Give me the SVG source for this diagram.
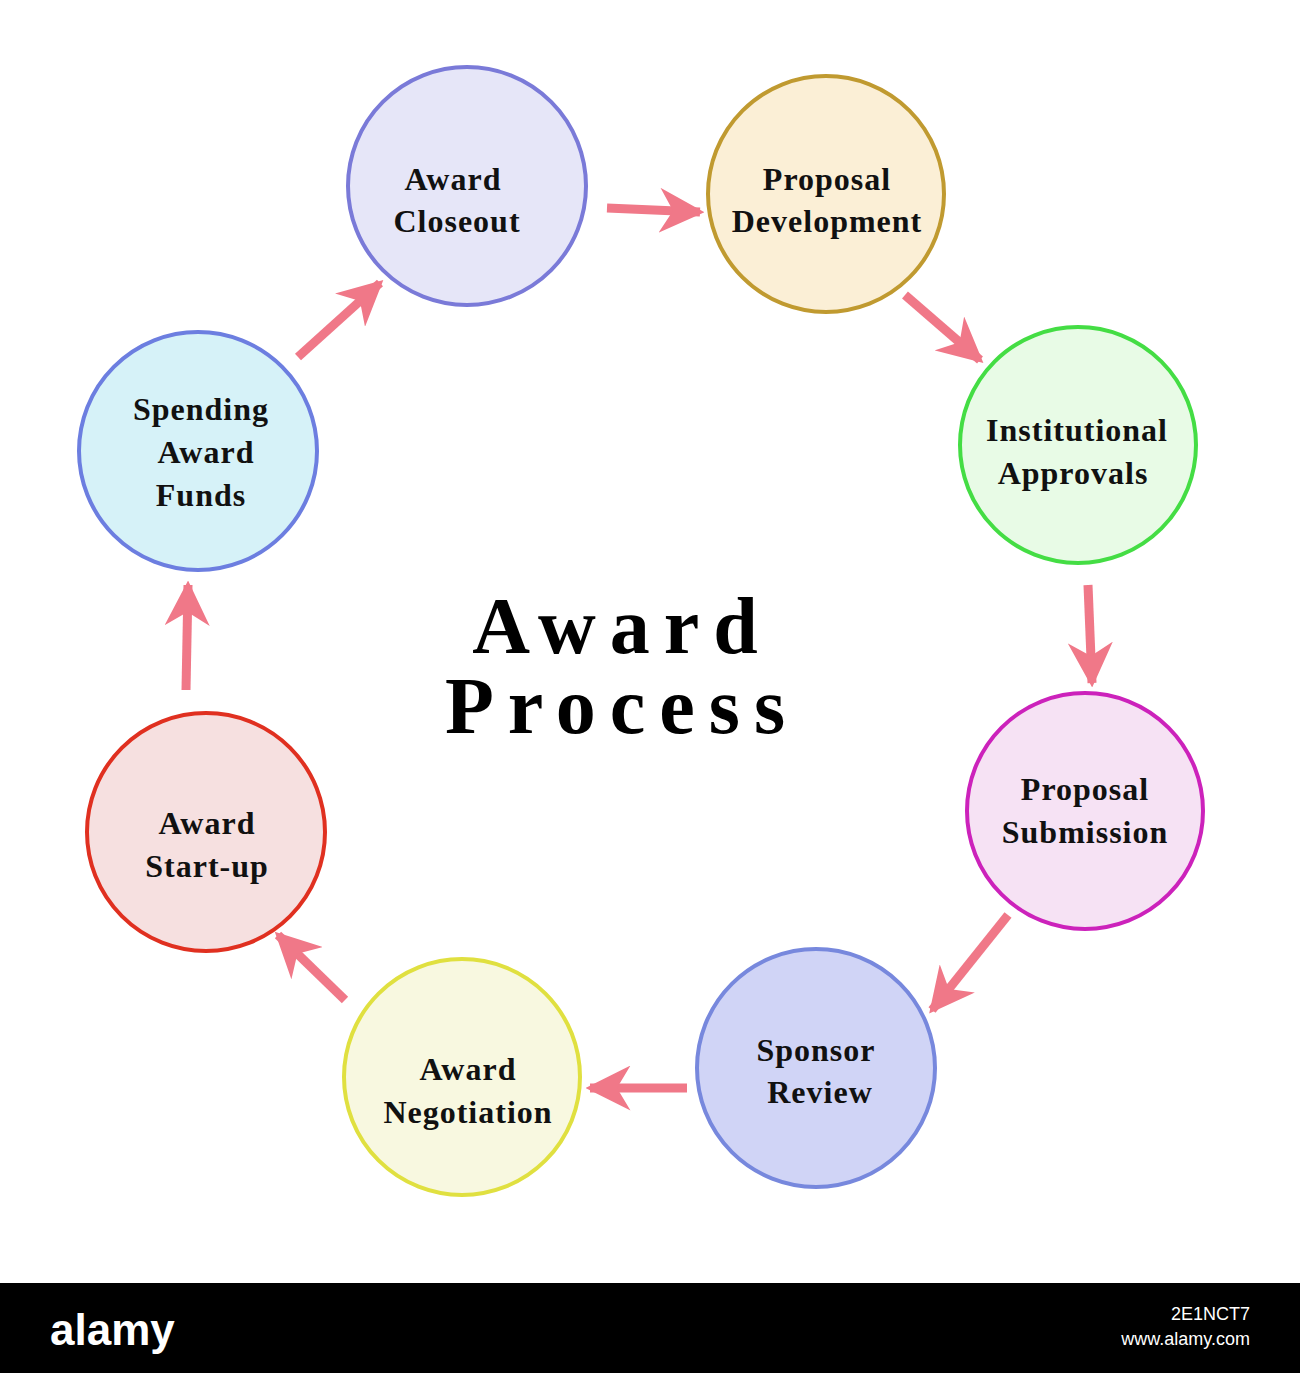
<svg xmlns="http://www.w3.org/2000/svg" width="1300" height="1373" viewBox="0 0 1300 1373">
<style>
.c{stroke-width:4}
.t{font-family:"Liberation Serif",serif;font-weight:bold;font-size:32px;letter-spacing:1px;text-anchor:middle;fill:#111}
.a{stroke:#f07888;stroke-width:9;fill:none}
.h{fill:#f07888}
</style>
<rect width="1300" height="1373" fill="#fff"/>
<g id="n1"><circle class="c" cx="467" cy="186" r="119" fill="#e6e6f8" stroke="#7a7ad8"/><text class="t" x="453" y="190">Award</text><text class="t" x="457" y="232">Closeout</text></g>
<g id="n2"><circle class="c" cx="826" cy="194" r="118" fill="#fbefd6" stroke="#c09a30"/><text class="t" x="827" y="190">Proposal</text><text class="t" x="827" y="232">Development</text></g>
<g id="n3"><circle class="c" cx="1078" cy="445" r="118" fill="#e8fbe6" stroke="#44dd44"/><text class="t" x="1077" y="441">Institutional</text><text class="t" x="1073" y="484">Approvals</text></g>
<g id="n4"><circle class="c" cx="1085" cy="811" r="118" fill="#f6e2f4" stroke="#cc22bb"/><text class="t" x="1085" y="800">Proposal</text><text class="t" x="1085" y="843">Submission</text></g>
<g id="n5"><circle class="c" cx="816" cy="1068" r="119" fill="#d0d4f6" stroke="#7788dd"/><text class="t" x="816" y="1061">Sponsor</text><text class="t" x="820" y="1103">Review</text></g>
<g id="n6"><circle class="c" cx="462" cy="1077" r="118" fill="#f8f8e0" stroke="#e0e040"/><text class="t" x="468" y="1080">Award</text><text class="t" x="468" y="1123">Negotiation</text></g>
<g id="n7"><circle class="c" cx="206" cy="832" r="119" fill="#f6e0e0" stroke="#e03020"/><text class="t" x="207" y="834">Award</text><text class="t" x="207" y="877">Start-up</text></g>
<g id="n8"><circle class="c" cx="198" cy="451" r="119" fill="#d6f2f8" stroke="#6c7ee0"/><text class="t" x="201" y="420">Spending</text><text class="t" x="206" y="463">Award</text><text class="t" x="201" y="506">Funds</text></g>
<g id="title" font-family="Liberation Serif,serif" font-weight="bold" font-size="80" text-anchor="middle" letter-spacing="14" fill="#000"><text x="622" y="653">Award</text><text x="622" y="733">Process</text></g>
<g id="connectors">
<defs><marker id="m" viewBox="0 0 10 10" refX="9" refY="5" markerWidth="5" markerHeight="5" orient="auto" markerUnits="strokeWidth"><path d="M0,0 L10,5 L0,10 L3,5 z" class="h"/></marker></defs>
<line class="a" x1="607" y1="208" x2="700" y2="212" marker-end="url(#m)"/>
<line class="a" x1="905" y1="295" x2="980" y2="360" marker-end="url(#m)"/>
<line class="a" x1="1088" y1="585" x2="1092" y2="683" marker-end="url(#m)"/>
<line class="a" x1="1008" y1="915" x2="932" y2="1010" marker-end="url(#m)"/>
<line class="a" x1="687" y1="1088" x2="590" y2="1088" marker-end="url(#m)"/>
<line class="a" x1="345" y1="1000" x2="278" y2="935" marker-end="url(#m)"/>
<line class="a" x1="186" y1="690" x2="188" y2="585" marker-end="url(#m)"/>
<line class="a" x1="298" y1="357" x2="380" y2="283" marker-end="url(#m)"/>
</g>
<g id="bar"><rect x="0" y="1283" width="1300" height="90" fill="#000"/>
<text x="50" y="1345" font-family="Liberation Sans,sans-serif" font-weight="bold" font-size="44" fill="#fff">alamy</text>
<text x="1250" y="1320" font-family="Liberation Sans,sans-serif" font-size="18" fill="#fff" text-anchor="end">2E1NCT7</text>
<text x="1250" y="1345" font-family="Liberation Sans,sans-serif" font-size="18" fill="#fff" text-anchor="end">www.alamy.com</text></g>
</svg>
